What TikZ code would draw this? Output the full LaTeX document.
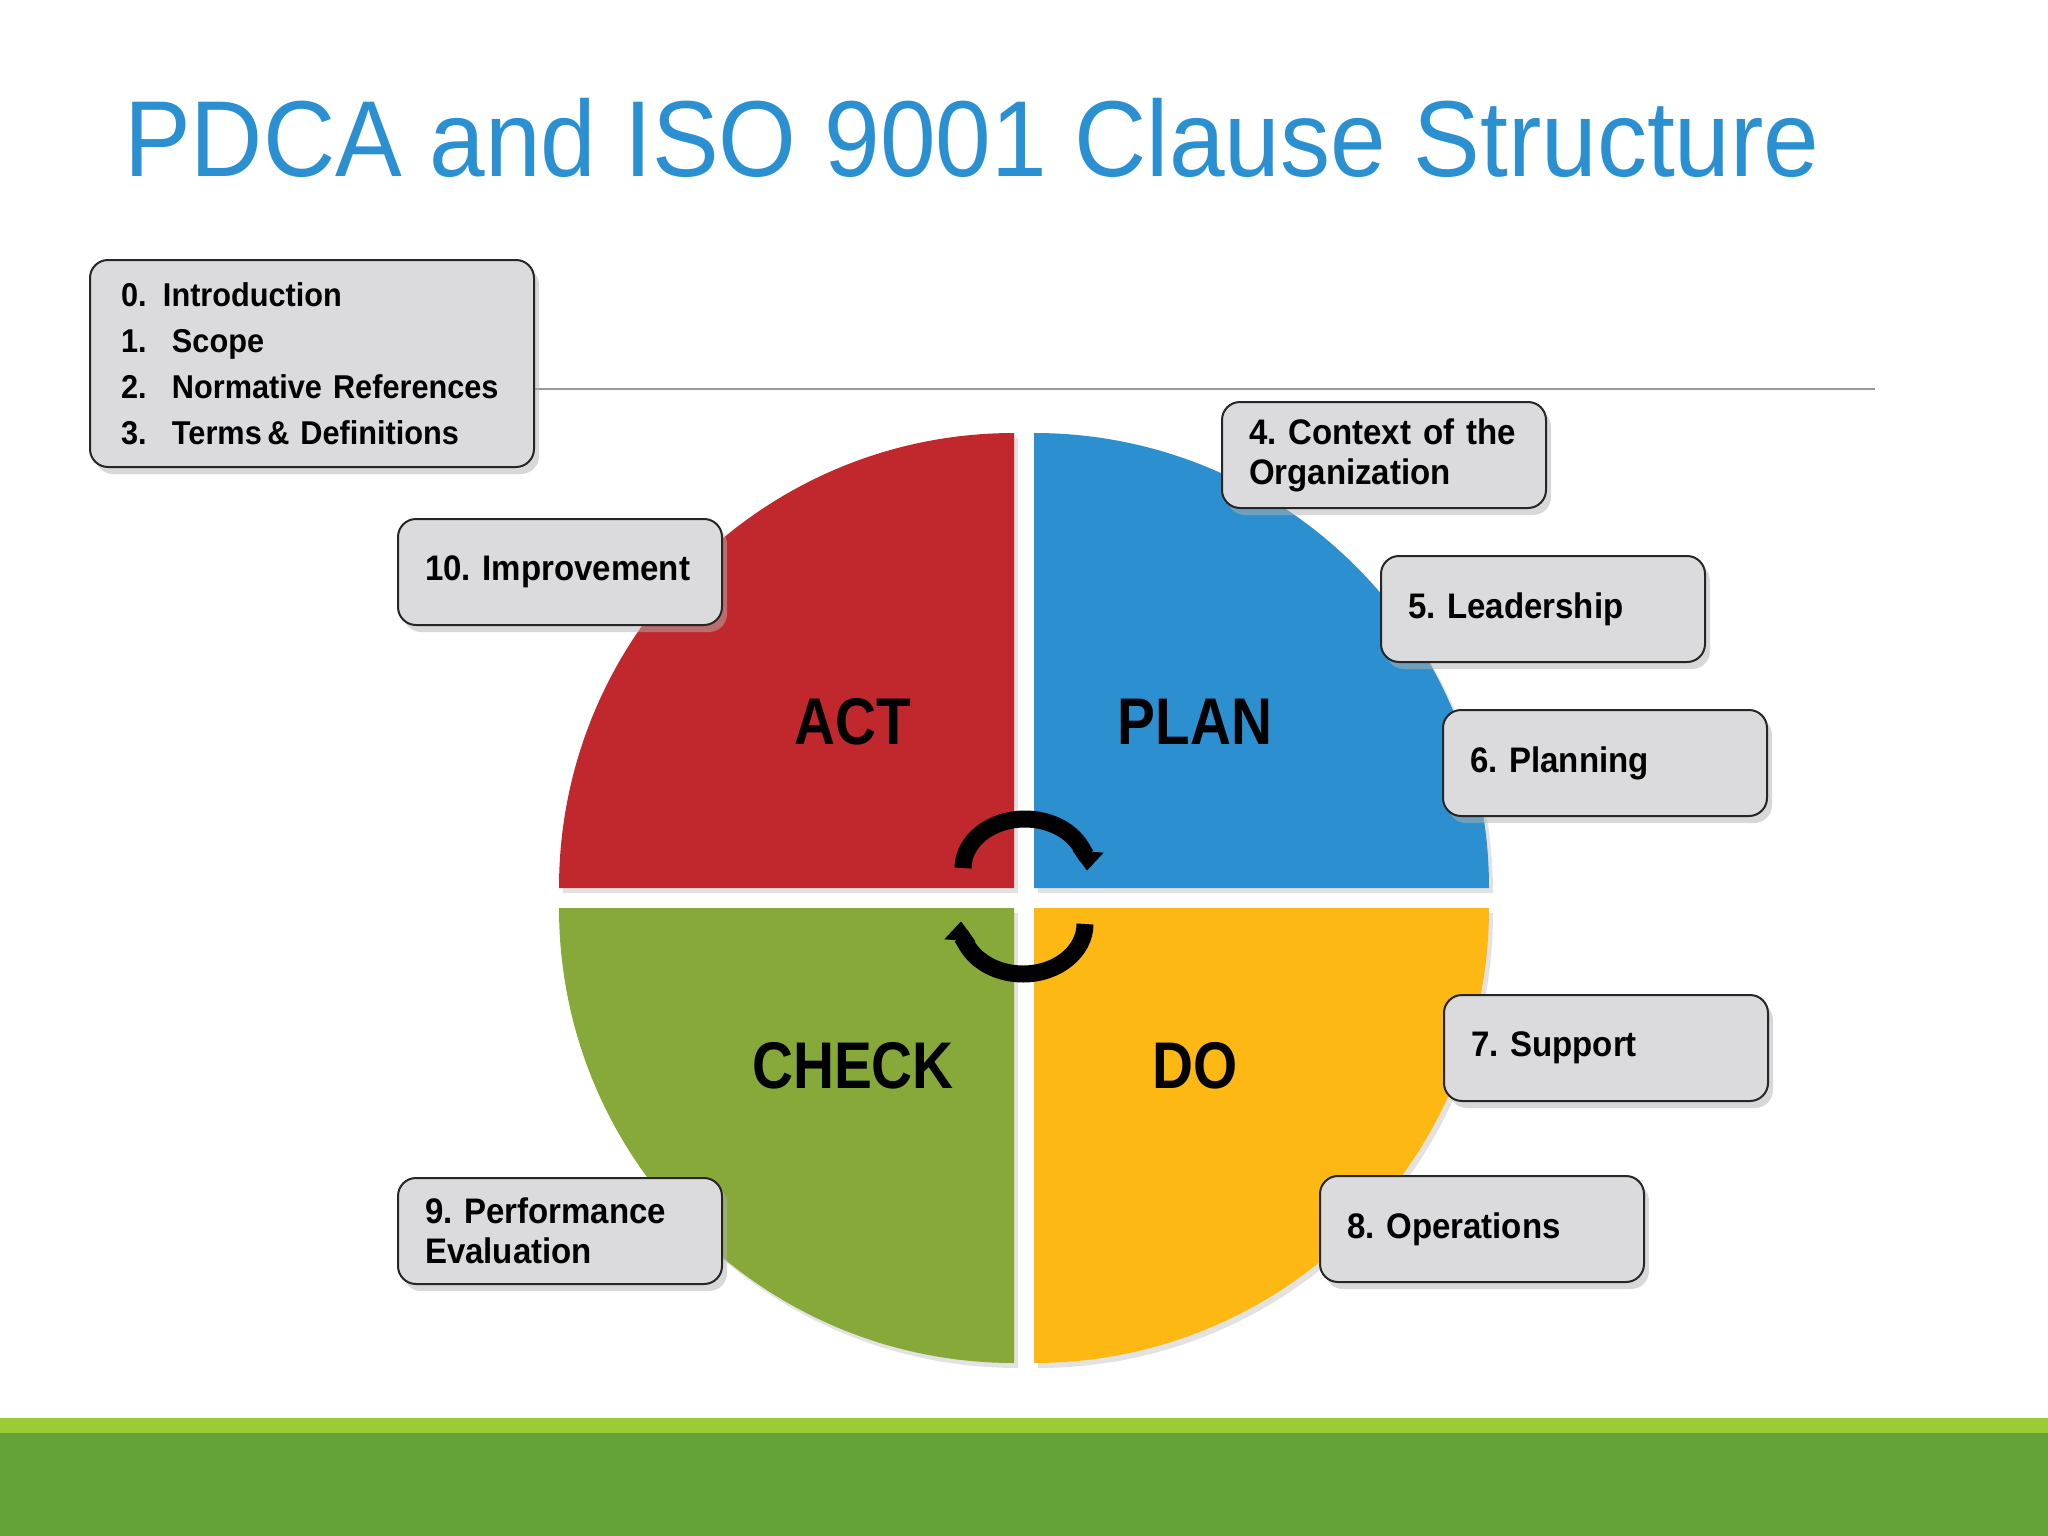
\documentclass[tikz,border=0pt]{standalone}
\usepackage{fontspec}
\setmainfont{Liberation Sans}
\newfontfamily\narrowsf[FakeStretch=0.93]{Liberation Sans}
\newfontfamily\phasesf[FakeStretch=0.86]{Liberation Sans}
\newfontfamily\titlesf[FakeStretch=0.926]{Liberation Sans}
\usetikzlibrary{arrows.meta, shadows}
\frenchspacing

\definecolor{titleblue}{HTML}{2A90D2}
\definecolor{actred}{HTML}{C1282E}
\definecolor{planblue}{HTML}{2B8FD0}
\definecolor{checkgreen}{HTML}{86A93A}
\definecolor{doyellow}{HTML}{FDB813}
\definecolor{boxgray}{HTML}{DBDBDD}
\definecolor{barlight}{HTML}{9BCB36}
\definecolor{bardark}{HTML}{63A438}

\begin{document}
\begin{tikzpicture}[
    x=1pt, y=-1pt,
    font=\narrowsf,
    % Styles
    clause/.style={draw=black!85, line width=2pt, rounded corners=18pt, fill=boxgray, anchor=north west, minimum width=324pt, minimum height=106pt, text width=270pt, inner xsep=27pt, align=left, font=\narrowsf\bfseries\fontsize{35.5}{40}\selectfont, drop shadow={shadow xshift=5pt, shadow yshift=-7pt, fill=black!30}},
    quarter/.style={drop shadow={shadow xshift=4pt, shadow yshift=-5pt, fill=black!22}},
    phase/.style={font=\phasesf\bfseries\fontsize{66}{70}\selectfont, inner sep=0pt},
    turn/.style={line width=17pt, -{Triangle[width=30pt, length=19pt]}}
]

% 0. Page and title
\fill[white] (0,0) rectangle (2048,1536);
\useasboundingbox (0,0) rectangle (2048,1536);
\node[anchor=base west, inner sep=0pt, text=titleblue, font=\titlesf\fontsize{108}{120}\selectfont] (title) at (124,176) {PDCA and ISO 9001 Clause Structure};

% 1. Bottom bars
\fill[barlight] (0,1418) rectangle (2048,1433);
\fill[bardark] (0,1433) rectangle (2048,1536);

% 2. PDCA quarters
\fill[actred, quarter] (1014,888) -- (559,888) arc[start angle=180, end angle=270, radius=455] -- cycle;
\fill[planblue, quarter] (1034,888) -- (1034,433) arc[start angle=270, end angle=360, radius=455] -- cycle;
\fill[checkgreen, quarter] (1014,908) -- (559,908) arc[start angle=180, end angle=90, radius=455] -- cycle;
\fill[doyellow, quarter] (1034,908) -- (1489,908) arc[start angle=0, end angle=90, radius=455] -- cycle;

\node[phase] (act) at (853,722) {ACT};
\node[phase] (plan) at (1195,722) {PLAN};
\node[phase] (check) at (853,1066) {CHECK};
\node[phase] (do) at (1195,1066) {DO};

% 3. Cycle arrows
\draw[turn] (963,868) arc[start angle=180, end angle=363, x radius=62, y radius=49];
\draw[turn] (1085,924) arc[start angle=0, end angle=183, x radius=62, y radius=50];

% 4. Clause boxes
\coordinate (rule end) at (1875,389);
\draw[black!40, line width=1.5pt] (533,389) -- (rule end);
\node[clause, minimum width=444pt, minimum height=207pt, text width=382pt, inner xsep=31pt, font=\narrowsf\bfseries\fontsize{33}{46}\selectfont] (intro) at (89,259)
    {\makebox[42pt][l]{0.}Introduction\\ \makebox[51pt][l]{1.}Scope\\ \makebox[51pt][l]{2.}Normative References\\ \makebox[51pt][l]{3.}Terms\,\& Definitions};

\node[clause] (improve) at (397,518) {10. Improvement};
\node[clause] (context) at (1221,401) {4. Context of the\\ Organization};
\node[clause] (leader) at (1380,555) {5. Leadership};
\node[clause] (planning) at (1442,709) {6. Planning};
\node[clause] (support) at (1443,994) {7. Support};
\node[clause] (operations) at (1319,1175) {8. Operations};
\node[clause] (evaluation) at (397,1177) {9. Performance\\ Evaluation};

\end{tikzpicture}
\end{document}
